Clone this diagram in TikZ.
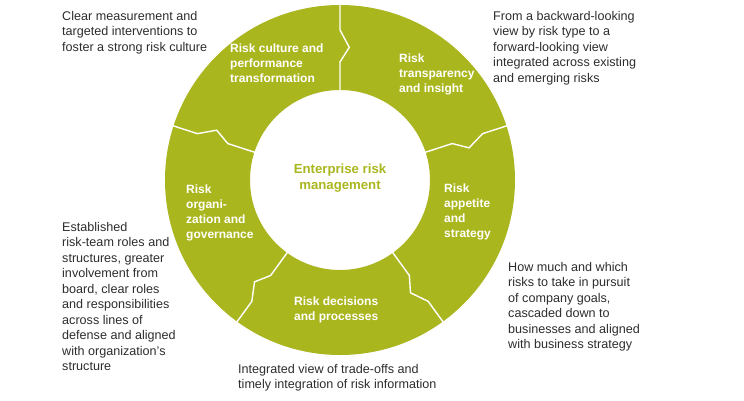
\documentclass[tikz,border=0pt]{standalone}
\usepackage{fontspec}
\setmainfont{Liberation Sans}
\usetikzlibrary{calc}
\definecolor{olive}{RGB}{170,182,30}
\definecolor{txt}{RGB}{45,45,45}
\begin{document}
\begin{tikzpicture}[x=1pt,y=1pt,
  desc/.style={anchor=north west,align=left,inner sep=0pt,text=txt,font=\fontsize{12.6}{15.5}\selectfont},
  seg/.style={anchor=north west,align=left,inner sep=0pt,text=white,font=\fontsize{12}{14.8}\selectfont\bfseries},
  sep/.style={draw=white,line width=1.4pt,line join=miter}]
\useasboundingbox (0,0) rectangle (744,-400);
\coordinate (C) at (340,-180);
\fill[olive,even odd rule] (C) circle (175) (C) circle (90);
\foreach \t in {90,18,-54,-126,162}{
  \draw[sep] ($(C)+(\t:89)$) -- ($(C)+(\t:118)$) -- ($(C)+(\t-4:133)$) -- ($(C)+(\t:150)$) -- ($(C)+(\t:176)$);
}
\node[align=center,text=olive,font=\fontsize{13.2}{16}\selectfont\bfseries] (ctr) at (340,-178) {Enterprise risk\\management};
\node[seg] (s1) at (230,-44) {Risk culture and\\performance\\transformation};
\node[seg] (s2) at (399,-54) {Risk\\transparency\\and insight};
\node[seg] (s3) at (444,-184) {Risk\\appetite\\and\\strategy};
\node[seg] (s4) at (294,-297) {Risk decisions\\and processes};
\node[seg] (s5) at (186,-185) {Risk\\organi-\\zation and\\governance};
\node[desc] (d1) at (62,-11) {Clear measurement and\\targeted interventions to\\foster a strong risk culture};
\node[desc] (d2) at (493,-11) {From a backward-looking\\view by risk type to a\\forward-looking view\\integrated across existing\\and emerging risks};
\node[desc] (d3) at (508,-262) {How much and which\\risks to take in pursuit\\of company goals,\\cascaded down to\\businesses and aligned\\with business strategy};
\node[desc] (d4) at (62,-222) {Established\\risk-team roles and\\structures, greater\\involvement from\\board, clear roles\\and responsibilities\\across lines of\\defense and aligned\\with organization’s\\structure};
\node[desc] (d5) at (238,-364) {Integrated view of trade-offs and\\timely integration of risk information};
\end{tikzpicture}
\end{document}
